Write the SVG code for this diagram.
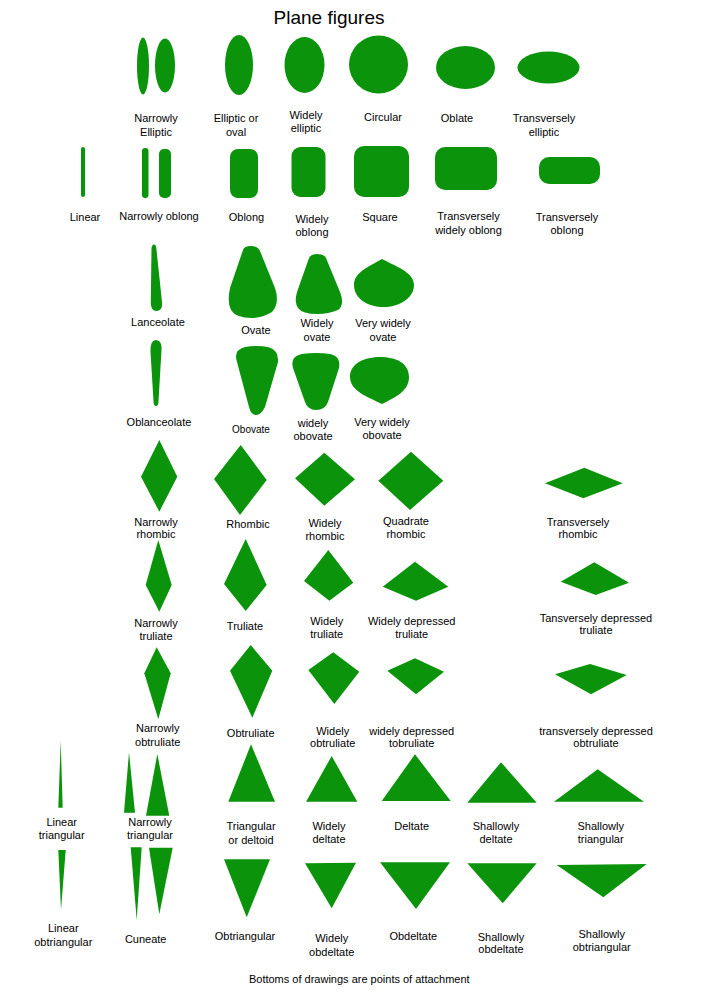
<svg xmlns="http://www.w3.org/2000/svg" width="709" height="1002" viewBox="0 0 709 1002">
<style>
.s{fill:#0b940b}
.t{font-family:"Liberation Sans",Arial,sans-serif;font-size:11px;text-anchor:middle;fill:#000}
.sm{font-size:10px}
.h{font-family:"Liberation Sans",Arial,sans-serif;font-size:19px;text-anchor:middle;fill:#000}
</style>
<rect width="709" height="1002" fill="#fff"/>
<text class="h" x="329" y="24">Plane figures</text>

<!-- Row 1: ellipses -->
<g id="narrowly-elliptic"><ellipse class="s" cx="143" cy="66" rx="6" ry="28.5"/><ellipse class="s" cx="165" cy="65.5" rx="10" ry="27"/>
<text class="t" x="156" y="122">Narrowly</text><text class="t" x="156" y="136">Elliptic</text></g>
<g id="elliptic"><ellipse class="s" cx="239" cy="65" rx="14" ry="30"/>
<text class="t" x="236" y="122">Elliptic or</text><text class="t" x="236" y="136">oval</text></g>
<g id="widely-elliptic"><ellipse class="s" cx="304.5" cy="65" rx="20" ry="28"/>
<text class="t" x="306" y="119">Widely</text><text class="t" x="306" y="132">elliptic</text></g>
<g id="circular"><ellipse class="s" cx="378.5" cy="64.5" rx="29.5" ry="29"/>
<text class="t" x="383" y="121">Circular</text></g>
<g id="oblate"><ellipse class="s" cx="465.5" cy="67.5" rx="29.5" ry="21.5"/>
<text class="t" x="457" y="122">Oblate</text></g>
<g id="transversely-elliptic"><ellipse class="s" cx="548.5" cy="67.5" rx="31" ry="16"/>
<text class="t" x="544" y="122">Transversely</text><text class="t" x="544" y="136">elliptic</text></g>

<!-- Row 2: oblongs -->
<g id="linear"><rect class="s" x="81" y="147" width="4" height="50" rx="2"/>
<text class="t" x="85" y="221">Linear</text></g>
<g id="narrowly-oblong"><rect class="s" x="142" y="148" width="6.5" height="50" rx="3"/><rect class="s" x="159" y="149" width="12" height="49" rx="5"/>
<text class="t" x="159" y="220">Narrowly oblong</text></g>
<g id="oblong"><rect class="s" x="230" y="149" width="28" height="49" rx="8"/>
<text class="t" x="246.5" y="221">Oblong</text></g>
<g id="widely-oblong"><rect class="s" x="291.5" y="147" width="34" height="50" rx="9"/>
<text class="t" x="312" y="223">Widely</text><text class="t" x="312" y="236">oblong</text></g>
<g id="square"><rect class="s" x="354" y="146" width="55" height="51" rx="10"/>
<text class="t" x="380" y="221">Square</text></g>
<g id="transversely-widely-oblong"><rect class="s" x="435" y="147" width="62" height="43" rx="10"/>
<text class="t" x="468.5" y="220">Transversely</text><text class="t" x="468.5" y="234">widely oblong</text></g>
<g id="transversely-oblong"><rect class="s" x="539" y="157" width="61" height="27" rx="10"/>
<text class="t" x="567" y="221">Transversely</text><text class="t" x="567" y="234">oblong</text></g>

<!-- Row 3: ovate -->
<g id="lanceolate"><path class="s" d="M151.5,248 Q152,244.5 154,244.5 Q156,244.5 156.3,248 L162,302 Q163,311 156.5,311 Q150.5,311 150.8,302 Z"/>
<text class="t" x="158" y="326">Lanceolate</text></g>
<g id="ovate"><path class="s" d="M243,250 Q244,246 251,246 Q258,246 260,251 L275,288 Q280,303 272,312 Q262,318 252,318 Q236,318 231,310 Q227,302 230,288 Z"/>
<text class="t" x="256" y="334">Ovate</text></g>
<g id="widely-ovate"><path class="s" d="M309,258 Q311,254 317,254 Q324,254 326,258 L340,292 Q345,305 338,310 Q328,314 318,314 Q302,314 298,308 Q294,302 297,292 Z"/>
<text class="t" x="317" y="327">Widely</text><text class="t" x="317" y="341">ovate</text></g>
<g id="very-widely-ovate"><path class="s" d="M382,259 C395,266 414,272 414,285 C414,299 398,307 384,307 C368,307 354,299 354,285 C354,272 370,266 382,259 Z"/>
<text class="t" x="383" y="327">Very widely</text><text class="t" x="383" y="341">ovate</text></g>

<!-- Row 4: obovate -->
<g id="oblanceolate"><path class="s" d="M150.5,352 Q150,340 156,340 Q162,340 161.5,350 L158.5,401 Q158.5,406 156,406 Q153.5,406 153.5,401 Z"/>
<text class="t" x="159" y="426">Oblanceolate</text></g>
<g id="obovate"><path class="s" d="M237,362 Q233,350 245,347 Q256,345 268,347 Q279,350 278,362 L265,407 Q261,415 256,415 Q251,415 249,407 Z"/>
<text class="t sm" x="251" y="433">Obovate</text></g>
<g id="widely-obovate"><path class="s" d="M293,368 Q290,356 302,354 Q316,352 330,354 Q341,356 339,368 L328,402 Q325,410 316,410 Q308,410 305,402 Z"/>
<text class="t" x="313" y="427">widely</text><text class="t" x="313" y="440">obovate</text></g>
<g id="very-widely-obovate"><path class="s" d="M382,404 C368,397 350,391 350,377 C350,363 365,357 380,357 C396,357 409,363 409,377 C409,391 396,397 382,404 Z"/>
<text class="t" x="382" y="426">Very widely</text><text class="t" x="382" y="439">obovate</text></g>

<!-- Row 5: rhombic -->
<g id="narrowly-rhombic"><polygon class="s" points="159.3,440 177.3,476.7 159.3,511.7 141,476.7"/>
<text class="t" x="156" y="525.5">Narrowly</text><text class="t" x="156" y="538">rhombic</text></g>
<g id="rhombic"><polygon class="s" points="240.7,445 266.7,480 240,515 214,479"/>
<text class="t" x="248" y="528">Rhombic</text></g>
<g id="widely-rhombic"><polygon class="s" points="324.3,452.7 355,479.3 324.3,505.7 295,478.3"/>
<text class="t" x="325" y="527">Widely</text><text class="t" x="325" y="540">rhombic</text></g>
<g id="quadrate-rhombic"><polygon class="s" points="411,451.7 443.3,480.7 410,510 378.3,480.7"/>
<text class="t" x="406" y="524.5">Quadrate</text><text class="t" x="406" y="538">rhombic</text></g>
<g id="transversely-rhombic"><polygon class="s" points="584.3,467.7 622.7,483.3 583.3,498.3 545,483.3"/>
<text class="t" x="578" y="525.5">Transversely</text><text class="t" x="578" y="538">rhombic</text></g>

<!-- Row 6: truliate -->
<g id="narrowly-truliate"><polygon class="s" points="158.3,540 171.7,585 159.3,611.7 145.7,585"/>
<text class="t" x="156" y="627">Narrowly</text><text class="t" x="156" y="640">truliate</text></g>
<g id="truliate"><polygon class="s" points="245.7,539 266.7,585 245.7,611 224,584"/>
<text class="t" x="245" y="629.5">Truliate</text></g>
<g id="widely-truliate"><polygon class="s" points="328.3,550 353.3,582.7 329.3,600.7 304,581"/>
<text class="t" x="326.7" y="625">Widely</text><text class="t" x="326.7" y="638">truliate</text></g>
<g id="widely-depressed-truliate"><polygon class="s" points="415,561.7 448.3,586.7 416,600.7 382.7,586.7"/>
<text class="t" x="411.7" y="625">Widely depressed</text><text class="t" x="411.7" y="638">truliate</text></g>
<g id="transversely-depressed-truliate"><polygon class="s" points="594.3,562.3 629,582.7 595.7,595 560.7,581.7"/>
<text class="t" x="596" y="621.5">Tansversely depressed</text><text class="t" x="596" y="634">truliate</text></g>

<!-- Row 7: obtruliate -->
<g id="narrowly-obtruliate"><polygon class="s" points="156.7,647.3 170.7,673.3 158.3,719.3 144.3,673.3"/>
<text class="t" x="157.7" y="732">Narrowly</text><text class="t" x="157.7" y="745.5">obtruliate</text></g>
<g id="obtruliate"><polygon class="s" points="250.7,645 272.3,670.7 252.3,717.7 230,670.7"/>
<text class="t" x="250.7" y="737">Obtruliate</text></g>
<g id="widely-obtruliate"><polygon class="s" points="333.3,652.3 359.3,671.7 334.3,704 308.3,670"/>
<text class="t" x="332.7" y="734.5">Widely</text><text class="t" x="332.7" y="747">obtruliate</text></g>
<g id="widely-depressed-tobruliate"><polygon class="s" points="415,658.3 444,671.7 416,694.3 387.3,670.7"/>
<text class="t" x="411.7" y="734.5">widely depressed</text><text class="t" x="411.7" y="747">tobruliate</text></g>
<g id="transversely-depressed-obtruliate"><polygon class="s" points="590,664 626.7,675 591,694.3 555,674.3"/>
<text class="t" x="596" y="734.5">transversely depressed</text><text class="t" x="596" y="746.5">obtruliate</text></g>

<!-- Row 8: triangular -->
<g id="linear-triangular"><polygon class="s" points="60.7,741 62.7,807.7 58.3,807.7"/>
<text class="t" x="61.7" y="826">Linear</text><text class="t" x="61.7" y="839">triangular</text></g>
<g id="narrowly-triangular"><polygon class="s" points="129,752.3 135,812.7 124,812.7"/><polygon class="s" points="157.3,754 169.3,815.7 146,815.7"/>
<text class="t" x="150" y="826">Narrowly</text><text class="t" x="150" y="839">triangular</text></g>
<g id="triangular"><polygon class="s" points="251,744.3 275,801.7 228.3,801.7"/>
<text class="t" x="251" y="830">Triangular</text><text class="t" x="251" y="844">or deltoid</text></g>
<g id="widely-deltate"><polygon class="s" points="331.7,756 357.3,801.7 306,801.7"/>
<text class="t" x="329" y="830">Widely</text><text class="t" x="329" y="843">deltate</text></g>
<g id="deltate"><polygon class="s" points="415,754.3 450.7,801 381.7,801"/>
<text class="t" x="411.7" y="830">Deltate</text></g>
<g id="shallowly-deltate"><polygon class="s" points="501,762.3 536.7,802.7 467.3,802.7"/>
<text class="t" x="496" y="830">Shallowly</text><text class="t" x="496" y="843">deltate</text></g>
<g id="shallowly-triangular"><polygon class="s" points="597.7,769.3 644,801.7 554,801.7"/>
<text class="t" x="600.7" y="830">Shallowly</text><text class="t" x="600.7" y="843">triangular</text></g>

<!-- Row 9: obtriangular -->
<g id="linear-obtriangular"><polygon class="s" points="58.3,850 65.7,850 61,910"/>
<text class="t" x="63.3" y="932">Linear</text><text class="t" x="63.3" y="945.5">obtriangular</text></g>
<g id="cuneate"><polygon class="s" points="130.7,847.3 141.7,847.3 136.7,920"/><polygon class="s" points="149,847.7 172.7,847.7 159.3,914.3"/>
<text class="t" x="145.7" y="943">Cuneate</text></g>
<g id="obtriangular"><polygon class="s" points="224,859.3 270,859.3 246.7,917.3"/>
<text class="t" x="245" y="940">Obtriangular</text></g>
<g id="widely-obdeltate"><polygon class="s" points="305,863.3 356,862.7 331.7,908.3"/>
<text class="t" x="331.7" y="942">Widely</text><text class="t" x="331.7" y="955.5">obdeltate</text></g>
<g id="obdeltate"><polygon class="s" points="380,862.3 450,862.3 416,909"/>
<text class="t" x="413.3" y="940">Obdeltate</text></g>
<g id="shallowly-obdeltate"><polygon class="s" points="467.3,863.3 536.7,863.3 502.7,903.3"/>
<text class="t" x="501" y="940.5">Shallowly</text><text class="t" x="501" y="953">obdeltate</text></g>
<g id="shallowly-obtriangular"><polygon class="s" points="556.7,865 646.7,864 603.3,897.3"/>
<text class="t" x="601.7" y="938">Shallowly</text><text class="t" x="601.7" y="951">obtriangular</text></g>

<g id="connectors"/>
<text class="t" x="359.3" y="983">Bottoms of drawings are points of attachment</text>
</svg>
